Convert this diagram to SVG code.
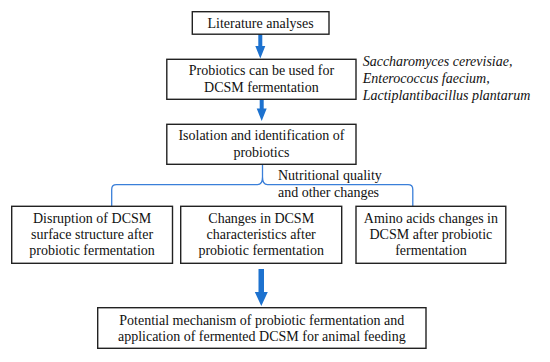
<svg xmlns="http://www.w3.org/2000/svg" width="550" height="362" viewBox="0 0 550 362" font-family="Liberation Serif, DejaVu Serif, serif" font-size="14">
<style>
.box{fill:#fff;stroke:#222;stroke-width:1.4}
.t{fill:#111;text-anchor:middle}
.it{font-style:italic;fill:#111}
.arr{fill:#1d72cf}
.brace{fill:none;stroke:#3a7fd9;stroke-width:1.3}
</style>
<rect width="550" height="362" fill="#fff"/>
<g id="connectors">
<polygon class="arr" points="258.3,34 262.3,34 262.3,46 265.3,46 260.3,58.5 255.3,46 258.3,46"/>
<polygon class="arr" points="259.7,99.5 263.7,99.5 263.7,108.5 266.7,108.5 261.7,121 256.7,108.5 259.7,108.5"/>
<polygon class="arr" points="258.5,269 264,269 264,292 267.8,292 261.3,306 254.8,292 258.5,292"/>
<path class="brace" d="M262.5,164 V177"/>
<path class="brace" d="M111.7,206 V189.5 Q111.7,184.7 116.5,184.7 H257.5 Q262.5,184.7 262.5,177 Q262.5,184.7 267.5,184.7 H408 Q412.8,184.7 412.8,189.5 V206"/>
<text class="t" x="278" y="180" text-anchor="start" style="text-anchor:start">Nutritional quality</text>
<text class="t" x="278" y="196.5" text-anchor="start" style="text-anchor:start">and other changes</text>
</g>
<g id="n1">
<rect class="box" x="192.3" y="11.7" width="136.7" height="22.5"/>
<text class="t" x="260.6" y="28">Literature analyses</text>
</g>
<g id="n2">
<rect class="box" x="166.8" y="59.3" width="189.2" height="40"/>
<text class="t" x="261.4" y="75.3">Probiotics can be used for</text>
<text class="t" x="261.4" y="92.3">DCSM fermentation</text>
</g>
<g id="species">
<text class="it" x="362.7" y="66">Saccharomyces cerevisiae,</text>
<text class="it" x="362.7" y="83.3">Enterococcus faecium,</text>
<text class="it" x="362.7" y="100.3">Lactiplantibacillus plantarum</text>
</g>
<g id="n3">
<rect class="box" x="166.8" y="124.3" width="189.2" height="40"/>
<text class="t" x="261.4" y="140.3">Isolation and identification of</text>
<text class="t" x="261.4" y="156.8">probiotics</text>
</g>
<g id="n4">
<rect class="box" x="11.7" y="206.3" width="160.8" height="57"/>
<text class="t" x="92.1" y="222.6">Disruption of DCSM</text>
<text class="t" x="92.1" y="239">surface structure after</text>
<text class="t" x="92.1" y="255.4">probiotic fermentation</text>
</g>
<g id="n5">
<rect class="box" x="180.7" y="206.3" width="161" height="57"/>
<text class="t" x="261.2" y="222.6">Changes in DCSM</text>
<text class="t" x="261.2" y="239">characteristics after</text>
<text class="t" x="261.2" y="255.4">probiotic fermentation</text>
</g>
<g id="n6">
<rect class="box" x="356" y="206.3" width="149.8" height="57"/>
<text class="t" x="430.9" y="222.6">Amino acids changes in</text>
<text class="t" x="430.9" y="239">DCSM after probiotic</text>
<text class="t" x="430.9" y="255.4">fermentation</text>
</g>
<g id="n7">
<rect class="box" x="97.7" y="307.7" width="328.3" height="40.6"/>
<text class="t" x="261.8" y="324.6">Potential mechanism of probiotic fermentation and</text>
<text class="t" x="261.8" y="341.3">application of fermented DCSM for animal feeding</text>
</g>
</svg>
